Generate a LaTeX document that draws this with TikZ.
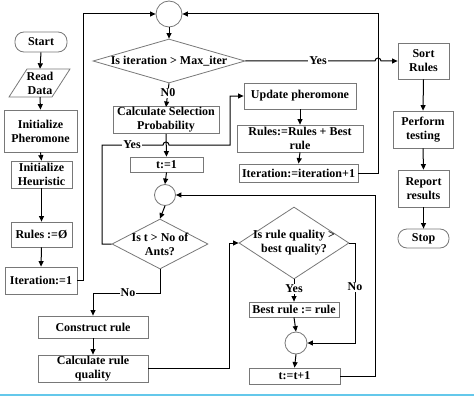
\documentclass[tikz,border=0pt]{standalone}
\usepackage{fontspec}
\setmainfont{Liberation Serif}
\usetikzlibrary{arrows.meta,shapes.geometric}
\definecolor{boxgray}{RGB}{120,120,120}
\definecolor{capline}{RGB}{100,200,235}
\begin{document}
\begin{tikzpicture}[x=1pt,y=-1pt,
  font=\fontsize{12}{14}\selectfont\bfseries,
  box/.style={draw=boxgray, line width=0.8pt, fill=white, align=center, inner sep=1pt},
  term/.style={box, rounded corners=9pt},
  circ/.style={circle, draw=boxgray, line width=0.8pt, fill=white, inner sep=0pt},
  dia/.style={diamond, draw=boxgray, line width=0.8pt, fill=white, inner sep=0pt, aspect=2},
  txt/.style={align=center, inner sep=0pt},
  lbl/.style={fill=white, inner sep=1pt},
  arr/.style={-{Triangle[length=5.5pt,width=5pt]}, line width=1pt},
  ln/.style={line width=1pt}]
\useasboundingbox (0,0) rectangle (474,404);

% left column
\node[term, minimum width=52pt, minimum height=20pt] (start) at (41,42) {Start};
\draw[boxgray, line width=0.8pt, fill=white] (27,69) -- (70,69) -- (52,97) -- (9,97) -- cycle;
\node[txt, minimum height=28pt] (read) at (40,83) {Read\\Data};
\node[box, minimum width=73pt, minimum height=42pt] (initph) at (40.5,131) {Initialize\\Pheromone};
\node[box, minimum width=61pt, minimum height=27pt] (inith) at (41.5,174.5) {Initialize\\Heuristic};
\node[box, minimum width=61pt, minimum height=25pt] (rules0) at (41.5,234.5) {Rules :=Ø};
\node[box, minimum width=72pt, minimum height=27pt] (iter1) at (41,280.5) {Iteration:=1};

% center top
\node[circ, minimum size=26pt] (c1) at (169,14) {};
\node[dia, minimum width=152pt, minimum height=44pt] (d1) at (169,61) {};
\node[txt] at (d1) {Is iteration > Max\_iter};
\node[box, minimum width=106pt, minimum height=26pt] (csp) at (166,120) {Calculate Selection\\Probability};
\node[box, minimum width=73pt, minimum height=15pt] (t1) at (166.5,164.5) {t:=1};
\node[circ, minimum size=21pt] (c2) at (165,195) {};
\node[dia, minimum width=96pt, minimum height=50pt] (d2) at (160,244) {};
\node[txt] at (d2) {Is t > No of\\Ants?};
\node[box, minimum width=110pt, minimum height=22pt] (cons) at (93,327) {Construct rule};
\node[box, minimum width=110pt, minimum height=27pt] (crq) at (93,368.5) {Calculate rule\\quality};

% center right
\node[box, minimum width=112pt, minimum height=26pt] (upd) at (300,96) {Update pheromone};
\node[box, minimum width=126pt, minimum height=27pt] (rrb) at (300,138.5) {Rules:=Rules + Best\\rule};
\node[box, minimum width=119pt, minimum height=18pt] (iterinc) at (298.5,173) {Iteration:=iteration+1};
\node[dia, minimum width=110pt, minimum height=72pt] (d3) at (294,243) {};
\node[txt] at (d3) {Is rule quality >\\best quality?};
\node[box, minimum width=90pt, minimum height=15pt] (best) at (294,309.5) {Best rule := rule};
\node[circ, minimum size=22pt] (c3) at (296,343) {};
\node[box, minimum width=91pt, minimum height=16pt] (tt1) at (294.5,376) {t:=t+1};

% right column
\node[box, minimum width=51pt, minimum height=36pt] (sortr) at (423.5,61) {Sort\\Rules};
\node[box, minimum width=60pt, minimum height=37pt] (perf) at (423,129.5) {Perform\\testing};
\node[box, minimum width=51pt, minimum height=37pt] (report) at (423.5,188.5) {Report\\results};
\node[term, minimum width=51pt, minimum height=19pt] (stop) at (423.5,238.5) {Stop};

% connectors left column
\draw[arr] (start.south) -- (read.north);
\draw[arr] (read.south) -- (initph.north);
\draw[arr] (initph.south) -- (inith.north);
\draw[arr] (inith.south) -- (rules0.north);
\draw[arr] (rules0.south) -- (iter1.north);
\draw[arr] (iter1.east) -- (83,280.5) |- (c1.west);

% outer loop
\draw[arr] (c1.south) -- (d1.north);
\draw[arr] (d1.east) -- (375,61) arc[start angle=180, end angle=0, radius=3pt] -- (sortr.west);
\node[lbl] at (318,61) {Yes};
\draw[arr] (iterinc.east) -- (378,173) |- (c1.east);
\draw[arr] (d1.south) -- (166,107);
\node[lbl] at (168,93) {N0};
\draw[arr] (csp.south) -- (t1.north);
\draw[arr] (t1.south) -- (c2.north);
\draw[arr] (c2.south) -- (d2.north);
\draw[arr] (d2.west) -- (102,244) -- (102,145) -- (163,145) arc[start angle=180, end angle=0, radius=3pt] -- (230,145) |- (upd.west);
\node[lbl] at (132,145) {Yes};
\draw[arr] (upd.south) -- (rrb.north);
\draw[arr] (rrb.south) -- (iterinc.north);

% inner loop
\draw[arr] (d2.south) -- (160,293) -| (cons.north);
\node[lbl] at (128,293) {No};
\draw[arr] (cons.south) -- (crq.north);
\draw[arr] (crq.east) -- (229,368.5) |- (d3.west);
\draw[arr] (d3.south) -- (best.north);
\node[lbl] at (294,289) {Yes};
\draw[arr] (best.south) -- (c3.north);
\draw[arr] (c3.south) -- (tt1.north);
\draw[arr] (d3.east) -- (355,243) |- (c3.east);
\node[lbl] at (355,287) {No};
\draw[arr] (tt1.east) -- (375,376) |- (c2.east);

% right column connectors
\draw[arr] (sortr.south) -- (perf.north);
\draw[arr] (perf.south) -- (report.north);
\draw[arr] (report.south) -- (stop.north);

% caption rule
\draw[capline, line width=1.5pt] (0,395) -- (474,395);
\end{tikzpicture}
\end{document}
